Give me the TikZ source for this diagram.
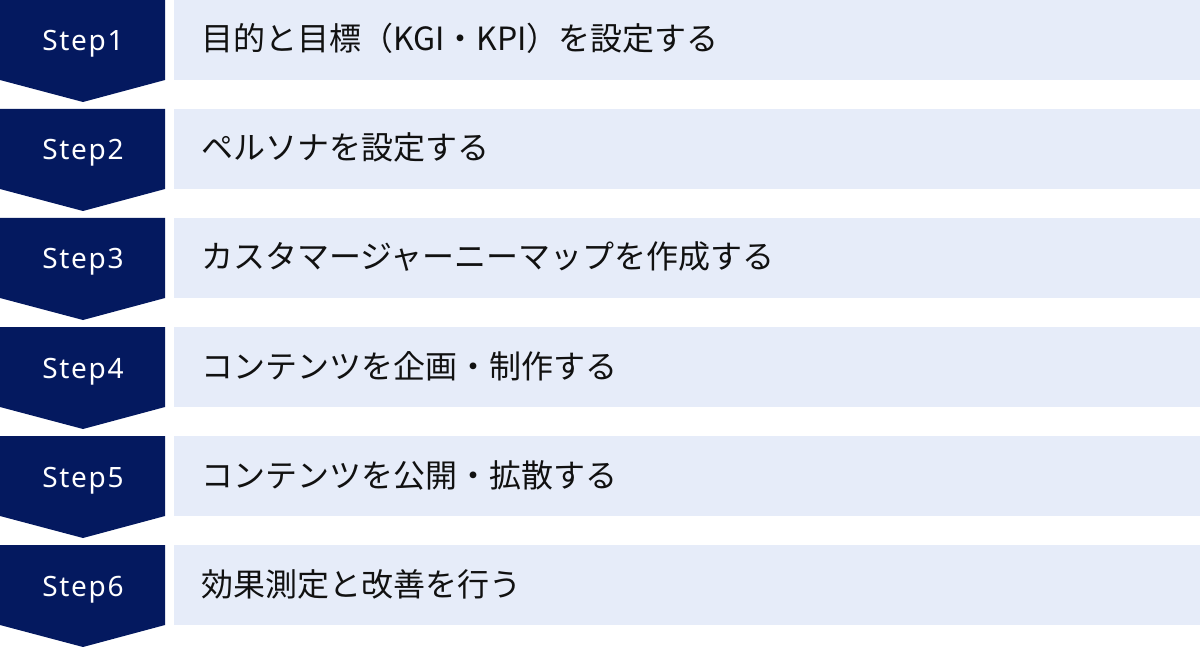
\documentclass[tikz,border=0pt]{standalone}
\usepackage{fontspec}
\setmainfont{Noto Sans CJK JP}
\newfontfamily\stepfont[LetterSpace=6]{Noto Sans}
\definecolor{navy}{HTML}{04195F}
\definecolor{lightbg}{HTML}{E6ECF9}
\definecolor{txt}{HTML}{111111}
\begin{document}
\begin{tikzpicture}[x=1pt,y=-1pt,
  stepshape/.style={fill=navy,draw=none},
  barshape/.style={fill=lightbg,draw=none},
  steplabel/.style={text=white,font=\stepfont\fontsize{28}{28}\selectfont,inner sep=0pt,anchor=base},
  itemlabel/.style={text=txt,font=\fontsize{32}{32}\selectfont,inner sep=0pt,anchor=base west}]
\useasboundingbox (0,0) rectangle (1200,647);
\foreach \i/\t in {0/目的と目標（KGI・KPI）を設定する,1/ペルソナを設定する,2/カスタマージャーニーマップを作成する,3/コンテンツを企画・制作する,4/コンテンツを公開・拡散する,5/効果測定と改善を行う}{
  \pgfmathsetmacro{\yy}{\i*109}
  \pgfmathtruncatemacro{\n}{\i+1}
  \fill[stepshape] (0,\yy) -- (165,\yy) -- (165,\yy+80) -- (83,\yy+102) -- (0,\yy+80) -- cycle;
  \fill[barshape] (174,\yy) rectangle (1200,\yy+80);
  \node[steplabel] (s\n) at (83,\yy+51) {Step\n};
  \node[itemlabel] (t\n) at (201,\yy+51) {\t};
}
\end{tikzpicture}
\end{document}
